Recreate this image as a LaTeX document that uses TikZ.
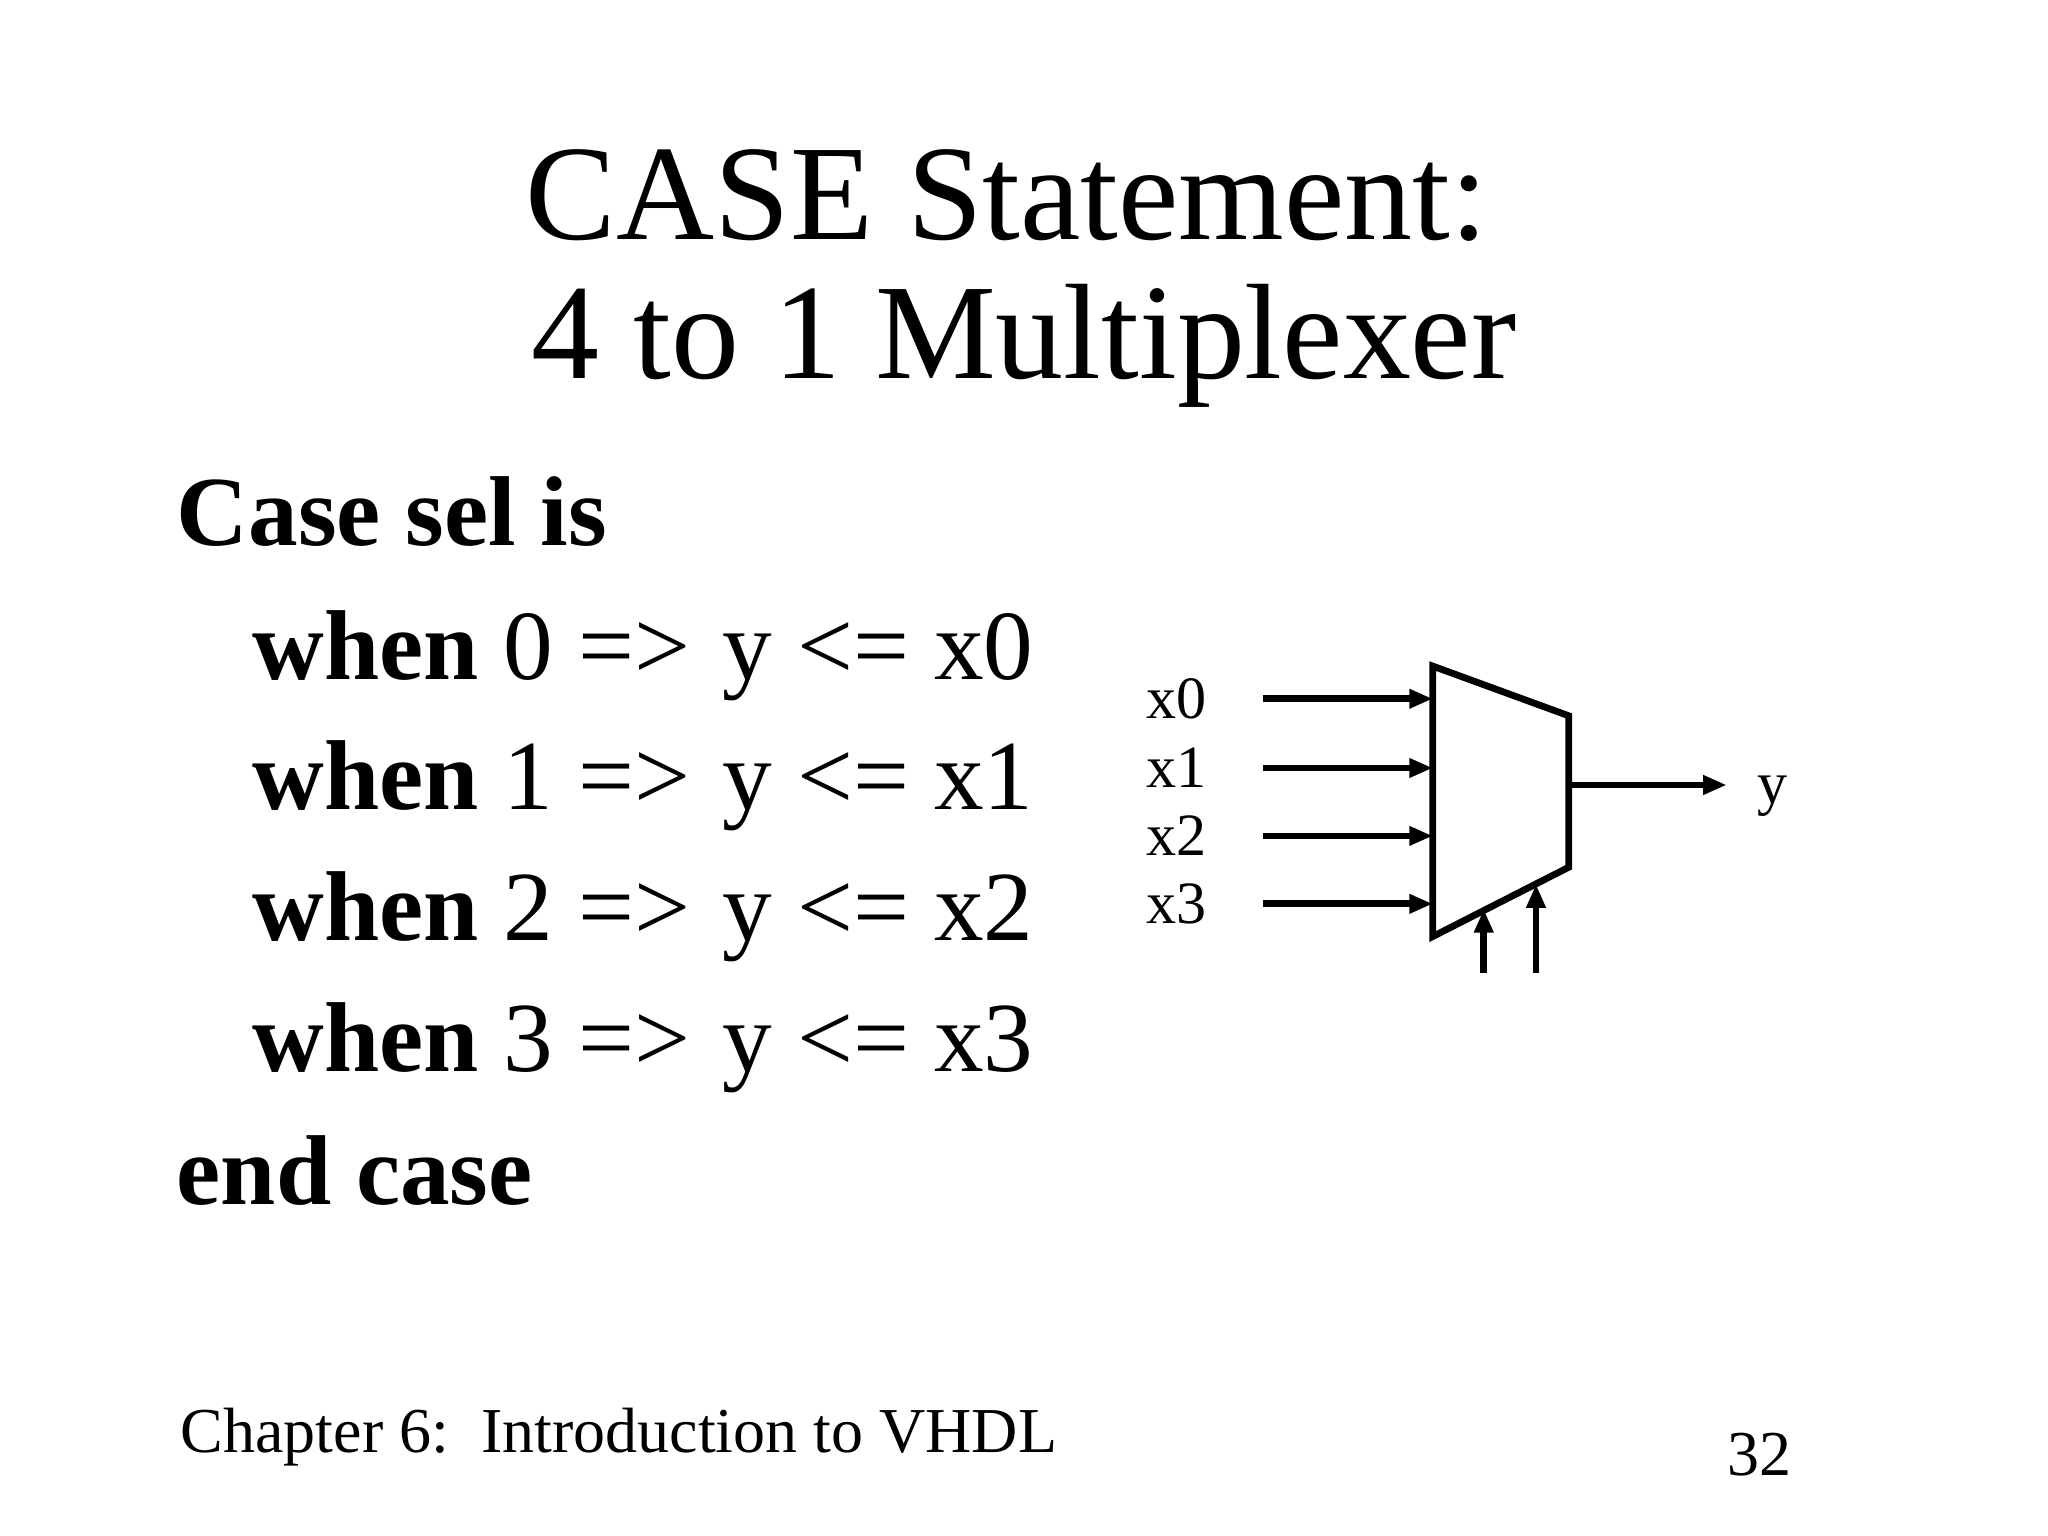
\documentclass[tikz,border=0pt]{standalone}
\usepackage{fontspec}
\setmainfont{Liberation Serif}
\usetikzlibrary{arrows.meta}
\begin{document}
\begin{tikzpicture}[x=0.5pt,y=-0.5pt,
  tt/.style={inner sep=0pt,anchor=base west},
  wire/.style={line width=2.6pt,-{Triangle[length=9pt,width=7pt]}},
  body/.style={tt,font=\fontsize{38}{40}\selectfont},
  lab/.style={tt,font=\fontsize{23}{24}\selectfont}]
\useasboundingbox (0,0) rectangle (1568,1176);
\node[inner sep=0pt,anchor=base,font=\fontsize{52}{54}\selectfont] (t1) at (771,183) {CASE Statement:};
\node[inner sep=0pt,anchor=base,font=\fontsize{52}{54}\selectfont] (t2) at (784,290) {4 to 1 Multiplexer};
\node[body] (c0) at (135,418) {\textbf{Case sel is}};
\foreach \i/\yy in {0/520,1/620,2/720,3/820}{
  \node[body] (w\i) at (193,\yy) {\textbf{when} \i\ =>};
  \node[body] (a\i) at (553,\yy) {y <= x\i};
}
\node[body] (ec) at (135,922) {\textbf{end case}};
\node[tt,font=\fontsize{24.5}{26}\selectfont] (ft) at (138,1112) {Chapter 6:\ \ Introduction to VHDL};
\node[inner sep=0pt,anchor=base east,font=\fontsize{24.5}{26}\selectfont] (pg) at (1372,1130) {32};
% mux
\draw[line width=2.6pt,line join=miter] (1097,510) -- (1201,548) -- (1201,664) -- (1097,717) -- cycle;
\foreach \i/\yy in {0/535,1/588,2/640,3/692}{
  \coordinate (s\i) at (967,\yy);
  \coordinate (e\i) at (1097,\yy);
  \draw[wire] (s\i) -- (e\i);
  \node[lab] (x\i) at (877,\yy+15) {x\i};
}
\coordinate (o1) at (1201,601);
\coordinate (o2) at (1322,601);
\draw[wire] (o1) -- (o2);
\node[lab] (yl) at (1345,615) {y};
\coordinate (sa) at (1136,745); \coordinate (sa2) at (1136,696);
\coordinate (sb) at (1176,745); \coordinate (sb2) at (1176,677);
\draw[wire] (sa) -- (sa2);
\draw[wire] (sb) -- (sb2);
\end{tikzpicture}
\end{document}
